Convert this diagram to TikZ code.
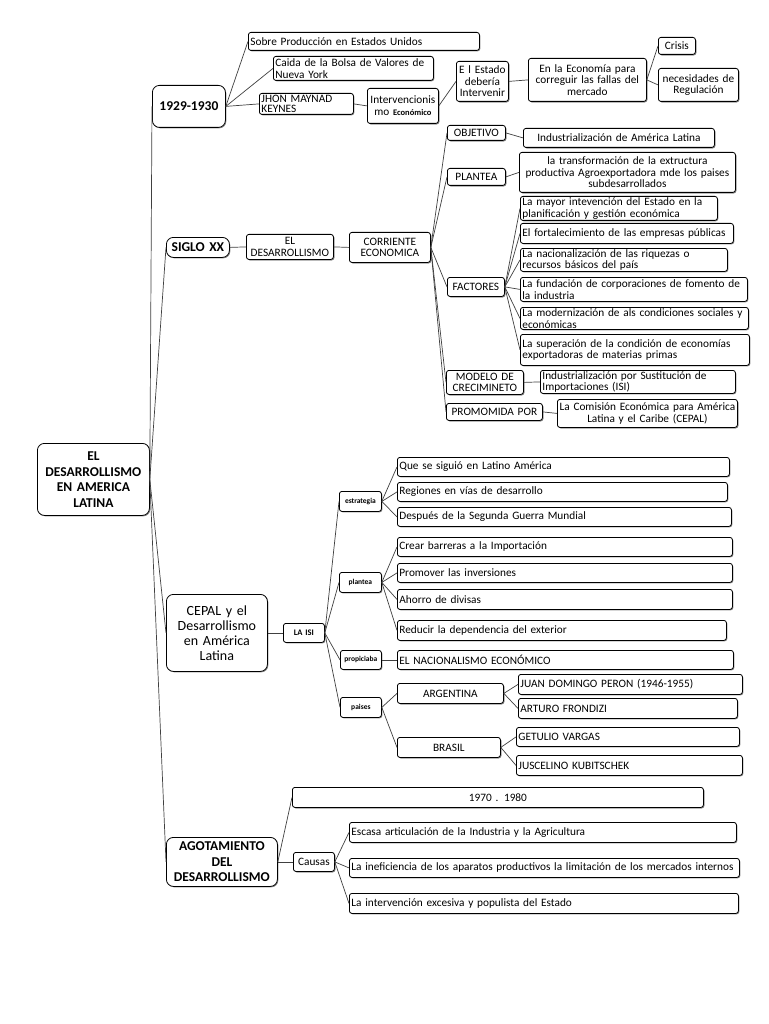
\documentclass[tikz,border=0pt]{standalone}
\usepackage{fontspec}
\setmainfont{Carlito}
\usetikzlibrary{shadows}
\tikzset{
  bx/.style={draw=black, line width=0.8pt, rounded corners=2.5pt, fill=white,
    inner xsep=2pt, inner ysep=0pt, align=center,
    drop shadow={shadow xshift=0.9pt, shadow yshift=-0.9pt, fill=black!45, opacity=1},
    font=\fontsize{11.3}{11.6}\selectfont},
  bxl/.style={align=left},
  big/.style={rounded corners=7pt, font=\fontsize{13.5}{15.5}\selectfont\bfseries},
  bigr/.style={rounded corners=7pt, font=\fontsize{14}{15}\selectfont},
  tinybx/.style={font=\fontsize{7.5}{8}\selectfont\bfseries},
  isibx/.style={font=\fontsize{8.5}{9}\selectfont\bfseries},
  tight/.style={font=\fontsize{11.3}{10.5}\selectfont},
  ln/.style={draw=black!75, line width=0.7pt},
}
\newcommand\mkbox[7][bx]{%
  \pgfmathsetmacro\mkbw{#5-#3}%
  \pgfmathsetmacro\mkbh{#6-#4}%
  \pgfmathsetmacro\mkbt{#5-#3-4}%
  \node[bx,#1,minimum width=\mkbw pt,minimum height=\mkbh pt,text width=\mkbt pt,anchor=north west] (#2) at (#3,#4) {#7};%
}
\begin{document}
\begin{tikzpicture}[x=1pt,y=-1pt]
\useasboundingbox (0,0) rectangle (768,1024);
\fill[white] (0,0) rectangle (768,1024);
% main branches
\mkbox[big]{root}{37}{443}{149}{515}{EL\\DESARROLLISMO\\EN AMERICA\\LATINA}
\mkbox[big]{b1}{152}{85}{225}{127}{1929-1930}
\mkbox[big]{b2}{166}{237}{229}{257}{SIGLO XX}
\mkbox[bigr]{b3}{166}{594}{267}{671}{CEPAL y el\\Desarrollismo\\en América\\Latina}
\mkbox[big]{b4}{166}{837}{277}{886}{AGOTAMIENTO\\DEL\\DESARROLLISMO}
% 1929-1930
\mkbox[bxl]{a1}{248}{32}{479}{50}{Sobre Producción en Estados Unidos}
\mkbox[bxl]{a2}{273}{56}{433}{80}{Caida de la Bolsa de Valores de\\Nueva York}
\mkbox[bxl,tight]{a3}{259}{93}{353}{114}{JHON MAYNAD\\KEYNES}
\mkbox{a4}{367}{88}{438}{123}{Intervencionis\\mo {\fontsize{8.5}{10}\selectfont\bfseries Económico}}
\mkbox{a5}{456}{61}{508}{101}{E l Estado\\debería\\Intervenir}
\mkbox{a6}{528}{58}{646}{101}{En la Economía para\\correguir las fallas del\\mercado}
\mkbox{a7}{658}{37}{695}{54}{Crisis}
\mkbox{a8}{658}{68}{738}{101}{necesidades de\\Regulación}
% SIGLO XX
\mkbox{s1}{246}{234}{333}{259}{EL\\DESARROLLISMO}
\mkbox{s2}{349}{232}{430}{262}{CORRIENTE\\ECONOMICA}
\mkbox{s3}{447}{125}{505}{140}{OBJETIVO}
\mkbox{s4}{523}{128}{714}{147}{Industrialización de América Latina}
\mkbox{s5}{447}{168}{505}{185}{PLANTEA}
\mkbox{s6}{519}{152}{735}{192}{la transformación de la extructura\\productiva Agroexportadora mde los paises\\subdesarrollados}
\mkbox{s7}{447}{277}{504}{296}{FACTORES}
\mkbox[bxl]{f1}{520}{196}{717}{220}{La mayor intevención del Estado en la\\planificación y gestión económica}
\mkbox[bxl]{f2}{520}{223}{733}{243}{El fortalecimiento de las empresas públicas}
\mkbox[bxl]{f3}{520}{248}{727}{271}{La nacionalización de las riquezas o\\recursos básicos del país}
\mkbox[bxl]{f4}{520}{277}{747}{301}{La fundación de corporaciones de fomento de\\la industria}
\mkbox[bxl]{f5}{520}{307}{748}{329}{La modernización de als condiciones sociales y\\económicas}
\mkbox[bxl]{f6}{520}{334}{749}{365}{La superación de la condición de economías\\exportadoras de materias primas}
\mkbox{s8}{446}{370}{523}{394}{MODELO DE\\CRECIMINETO}
\mkbox[bxl]{s9}{540}{370}{735}{393}{Industrialización por Sustitución de\\Importaciones (ISI)}
\mkbox{s10}{446}{403}{542}{420}{PROMOMIDA POR}
\mkbox{s11}{557}{399}{737}{427}{La Comisión Económica para América\\Latina y el Caribe (CEPAL)}
% CEPAL
\mkbox[isibx]{c0}{283}{623}{324}{642}{LA ISI}
\mkbox[tinybx]{c1}{339}{491}{381}{511}{estrategia}
\mkbox[bxl]{c11}{397}{457}{729}{476}{Que se siguió en Latino América}
\mkbox[bxl]{c12}{397}{482}{727}{501}{Regiones en vías de desarrollo}
\mkbox[bxl]{c13}{397}{507}{731}{526}{Después de la Segunda Guerra Mundial}
\mkbox[tinybx]{c2}{339}{572}{381}{592}{plantea}
\mkbox[bxl]{c21}{397}{537}{732}{556}{Crear barreras a la Importación}
\mkbox[bxl]{c22}{397}{563}{732}{582}{Promover las inversiones}
\mkbox[bxl]{c23}{397}{589}{732}{609}{Ahorro de divisas}
\mkbox[bxl]{c24}{397}{620}{726}{640}{Reducir la dependencia del exterior}
\mkbox[tinybx]{c3}{340}{650}{381}{669}{propiciaba}
\mkbox[bxl]{c31}{397}{650}{733}{669}{EL NACIONALISMO ECONÓMICO}
\mkbox[tinybx]{c4}{340}{697}{381}{717}{paises}
\mkbox{c41}{397}{683}{503}{703}{ARGENTINA}
\mkbox{c42}{397}{737}{500}{757}{BRASIL}
\mkbox[bxl]{c411}{518}{674}{742}{694}{JUAN DOMINGO PERON (1946-1955)}
\mkbox[bxl]{c412}{518}{698}{737}{718}{ARTURO FRONDIZI}
\mkbox[bxl]{c421}{516}{727}{739}{746}{GETULIO VARGAS}
\mkbox[bxl]{c422}{516}{755}{742}{775}{JUSCELINO KUBITSCHEK}
% AGOTAMIENTO
\mkbox{d1}{292}{787}{703}{807}{1970 . 1980}
\mkbox{d2}{293}{852}{334}{871}{Causas}
\mkbox[bxl]{d21}{349}{822}{736}{842}{Escasa articulación de la Industria y la Agricultura}
\mkbox[bxl]{d22}{349}{858}{739}{877}{La ineficiencia de los aparatos productivos la limitación de los mercados internos}
\mkbox[bxl]{d23}{349}{893}{738}{913}{La intervención excesiva y populista del Estado}
% connectors
\foreach \c in {b1,b2,b3,b4} \draw[ln] (root.east) -- (\c.west);
\foreach \c in {a1,a2,a3} \draw[ln] (b1.east) -- (\c.west);
\draw[ln] (a3.east) -- (a4.west);
\draw[ln] (a4.east) -- (a5.west);
\draw[ln] (a5.east) -- (a6.west);
\foreach \c in {a7,a8} \draw[ln] (a6.east) -- (\c.west);
\draw[ln] (b2.east) -- (s1.west);
\draw[ln] (s1.east) -- (s2.west);
\foreach \c in {s3,s5,s7,s8,s10} \draw[ln] (s2.east) -- (\c.west);
\draw[ln] (s3.east) -- (s4.west);
\draw[ln] (s5.east) -- (s6.west);
\foreach \c in {f1,f2,f3,f4,f5,f6} \draw[ln] (s7.east) -- (\c.west);
\draw[ln] (s8.east) -- (s9.west);
\draw[ln] (s10.east) -- (s11.west);
\draw[ln] (b3.east) -- (c0.west);
\foreach \c in {c1,c2,c3,c4} \draw[ln] (c0.east) -- (\c.west);
\foreach \c in {c11,c12,c13} \draw[ln] (c1.east) -- (\c.west);
\foreach \c in {c21,c22,c23,c24} \draw[ln] (c2.east) -- (\c.west);
\draw[ln] (c3.east) -- (c31.west);
\foreach \c in {c41,c42} \draw[ln] (c4.east) -- (\c.west);
\foreach \c in {c411,c412} \draw[ln] (c41.east) -- (\c.west);
\foreach \c in {c421,c422} \draw[ln] (c42.east) -- (\c.west);
\draw[ln] (b4.east) -- (d1.west);
\draw[ln] (b4.east) -- (d2.west);
\foreach \c in {d21,d22,d23} \draw[ln] (d2.east) -- (\c.west);
\end{tikzpicture}
\end{document}
